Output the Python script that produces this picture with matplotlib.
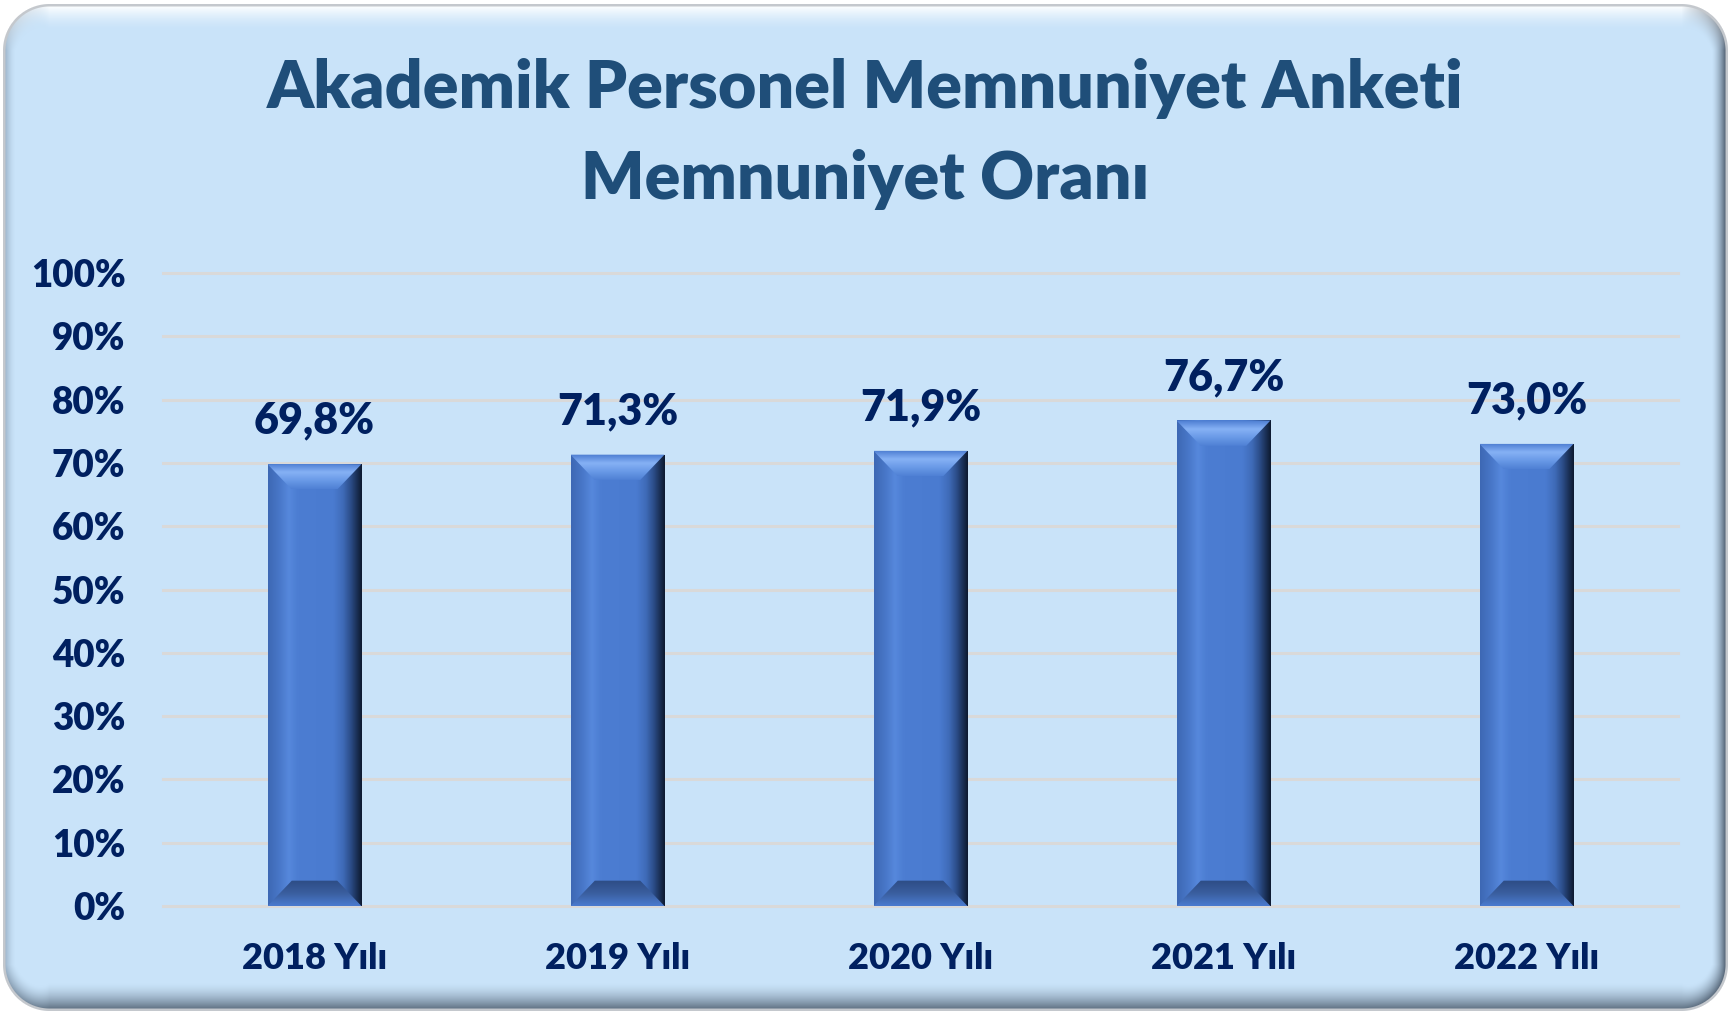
import numpy as np
import matplotlib
matplotlib.use("Agg")
import matplotlib.pyplot as plt
from matplotlib.patches import Polygon, Rectangle
from matplotlib.colors import to_rgb

plt.rcParams['font.family'] = ['Lato', 'DejaVu Sans']
WEIGHT = "heavy"
plt.rcParams['font.weight'] = WEIGHT

# ---- data ----
categories = ["2018 Yılı", "2019 Yılı", "2020 Yılı", "2021 Yılı", "2022 Yılı"]
values = [69.8, 71.3, 71.9, 76.7, 73.0]
value_labels = ["69,8%", "71,3%", "71,9%", "76,7%", "73,0%"]
yticks = [0, 10, 20, 30, 40, 50, 60, 70, 80, 90, 100]
ytick_labels = [f"{t}%" for t in yticks]
title_lines = ["Akademik Personel Memnuniyet Anketi", "Memnuniyet Oranı"]

W, H = 1731, 1016
fig = plt.figure(figsize=(W / 100, H / 100), dpi=100)
fig.patch.set_facecolor("white")


def fx(px):
    return px / W


def fy(py):
    return 1 - py / H


# ---- bevelled background panel (rendered as an image) ----
def panel_image(x0, y0, x1, y1, r):
    yy, xx = np.mgrid[0:H, 0:W].astype(float)
    cx, cy = (x0 + x1) / 2, (y0 + y1) / 2
    hx, hy = (x1 - x0) / 2, (y1 - y0) / 2
    ax_, ay_ = np.abs(xx - cx), np.abs(yy - cy)
    qx, qy = ax_ - (hx - r), ay_ - (hy - r)
    sx, sy = np.sign(xx - cx), np.sign(yy - cy)
    corner = (qx > 0) & (qy > 0)
    ln = np.hypot(np.maximum(qx, 0), np.maximum(qy, 0))
    d = np.where(corner, r - ln, r - np.maximum(qx, qy))
    nx = np.where(corner, np.maximum(qx, 0) / np.maximum(ln, 1e-9) * sx,
                  np.where(qx >= qy, sx, 0.0))
    ny = np.where(corner, np.maximum(qy, 0) / np.maximum(ln, 1e-9) * sy,
                  np.where(qx >= qy, 0.0, sy))
    T = np.array([252, 254, 255]) / 255
    B = np.array([98, 116, 134]) / 255
    L = np.array([160, 184, 206]) / 255
    R = np.array([84, 100, 118]) / 255
    wR, wL = np.maximum(nx, 0), np.maximum(-nx, 0)
    wB, wT = np.maximum(ny, 0), np.maximum(-ny, 0)
    wsum = wR + wL + wB + wT + 1e-9
    edge = (wR[..., None] * R + wL[..., None] * L + wB[..., None] * B + wT[..., None] * T) / wsum[..., None]
    width = (wR * 14 + wL * 10 + wB * 26 + wT * 24) / wsum
    base = np.array([201, 227, 249]) / 255
    t = np.clip((d - 2) / width, 0, 1)
    f = (1 - t) ** 1.6
    col = base * (1 - f[..., None]) + edge * f[..., None]
    outline = np.array([196, 200, 205]) / 255
    ol = np.clip(2.5 - d, 0, 1)[..., None]
    col = col * (1 - ol) + outline * ol
    alpha = np.clip(d + 1.0, 0, 1)[..., None]
    col = col * alpha + (1 - alpha) * 1.0
    return col


fig.figimage(panel_image(3, 4, 1727, 1010, 46), xo=0, yo=0, origin="upper", zorder=-10)

# ---- title ----
title_color = "#1f4e79"
fig.text(0.5, fy(108), title_lines[0], ha="center", va="baseline", fontsize=47.8,
         fontweight=WEIGHT, color=title_color)
fig.text(0.5, fy(199), title_lines[1], ha="center", va="baseline", fontsize=47.8,
         fontweight=WEIGHT, color=title_color)

# ---- axes ----
ax = fig.add_axes([fx(163), fy(906), fx(1678) - fx(163), fy(273) - fy(906)])
ax.set_facecolor("none")
for s in ax.spines.values():
    s.set_visible(False)
ax.set_yticks(yticks)
ax.set_yticklabels(ytick_labels)
ax.set_xticks(range(len(categories)))
ax.set_xticklabels(categories)
label_color = "#002060"
ax.tick_params(axis="y", length=0, pad=27, labelsize=26.5, labelcolor=label_color)
ax.tick_params(axis="x", length=0, pad=26, labelsize=26, labelcolor=label_color)
for lab in ax.get_xticklabels() + ax.get_yticklabels():
    lab.set_fontweight(WEIGHT)
ax.yaxis.grid(True, color="#d9d9d9", linewidth=2.2)
ax.set_axisbelow(True)

bar_width = 0.31
bars = ax.bar(range(len(categories)), values, width=bar_width, color="none",
              edgecolor="none", zorder=2)


def hgrad(stops, n=200):
    xs = np.linspace(0, 1, n)
    pos = [p for p, _ in stops]
    cols = np.array([to_rgb(c) for _, c in stops])
    return np.stack([np.interp(xs, pos, cols[:, k]) for k in range(3)], axis=-1)


body_stops = [(0.0, "#3d68b4"), (0.12, "#4877c8"), (0.22, "#5688dc"), (0.32, "#4c7dd2"),
              (0.70, "#4a7bd0"), (0.80, "#3f6bb8"), (0.88, "#2c4e8a"), (0.95, "#1a2f55"),
              (1.0, "#0d1a30")]
body = hgrad(body_stops)[None, :, :]
top_stops = [(0.0, "#4f80d4"), (0.35, "#6b9be8"), (0.65, "#86b1f5"), (1.0, "#4a7bd0")]
bot_stops = [(0.0, "#2d4c85"), (0.5, "#3a5e9e"), (1.0, "#4a7bd0")]

dx = 0.08
dy = 4.0
for rect, v in zip(bars, values):
    x0 = rect.get_x()
    x1 = x0 + rect.get_width()
    im = ax.imshow(body, extent=[x0, x1, 0, v], aspect="auto", zorder=2.1,
                   interpolation="bicubic")
    im.set_clip_path(Rectangle((x0, 0), x1 - x0, v, transform=ax.transData))
    tg = np.repeat(hgrad(top_stops)[:, None, :], 2, axis=1)
    im_t = ax.imshow(tg[::-1], extent=[x0, x1, v - dy, v], aspect="auto", zorder=2.2,
                     interpolation="bicubic")
    im_t.set_clip_path(Polygon([(x0, v), (x1, v), (x1 - dx, v - dy), (x0 + dx, v - dy)],
                               closed=True, transform=ax.transData))
    bg = np.repeat(hgrad(bot_stops)[:, None, :], 2, axis=1)
    im_b = ax.imshow(bg, extent=[x0, x1, 0, dy], aspect="auto", zorder=2.2,
                     interpolation="bicubic")
    im_b.set_clip_path(Polygon([(x0, 0), (x1, 0), (x1 - dx, dy), (x0 + dx, dy)],
                               closed=True, transform=ax.transData))

ax.set_xlim(-0.5, len(categories) - 0.5)
ax.set_ylim(0, 100)
for gl in ax.get_ygridlines():
    gl.set_clip_on(False)

for i, (v, lbl) in enumerate(zip(values, value_labels)):
    ax.annotate(lbl, (i, v), xytext=(0, 22), textcoords="offset points",
                ha="center", va="baseline", fontsize=31, fontweight=WEIGHT,
                color=label_color, zorder=3)

fig.savefig("out.png", dpi=100, facecolor=fig.get_facecolor())
